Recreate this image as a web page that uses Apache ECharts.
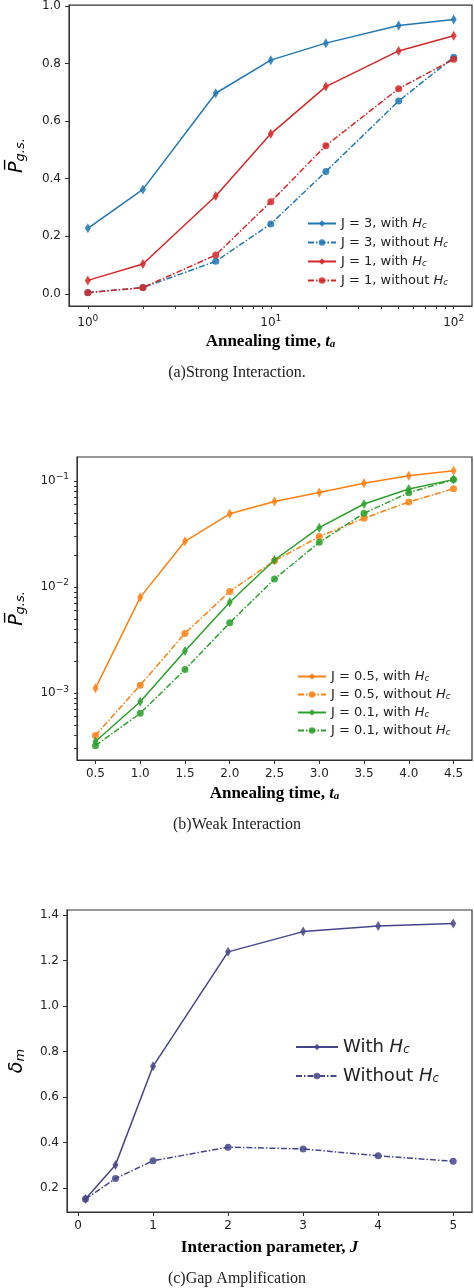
<!DOCTYPE html>
<html>
<head>
<meta charset="utf-8">
<script src="https://cdn.jsdelivr.net/npm/echarts@6/dist/echarts.min.js"></script>
<style>html,body{margin:0;padding:0;background:#fff}#c{width:474px;height:1288px}</style>
</head>
<body>
<div id="c"></div>
<script>
// (a) strong interaction
var tA = [1, 2, 5, 10, 20, 50, 100];
var j3With = [0.228, 0.363, 0.697, 0.812, 0.871, 0.932, 0.953];
var j3Without = [0.005, 0.022, 0.113, 0.243, 0.425, 0.670, 0.822];
var j1With = [0.047, 0.104, 0.340, 0.556, 0.720, 0.844, 0.897];
var j1Without = [0.004, 0.022, 0.135, 0.320, 0.515, 0.713, 0.815];
// (b) weak interaction
var tB = [0.5, 1.0, 1.5, 2.0, 2.5, 3.0, 3.5, 4.0, 4.5];
var j05With = [1.11e-3, 8.0e-3, 0.027, 0.049, 0.064, 0.078, 0.095, 0.112, 0.125];
var j05Without = [4.0e-4, 1.19e-3, 3.66e-3, 9.1e-3, 0.0177, 0.0299, 0.0445, 0.0634, 0.0847];
var j01With = [3.5e-4, 8.3e-4, 2.5e-3, 7.2e-3, 0.018, 0.0363, 0.0607, 0.084, 0.103];
var j01Without = [3.2e-4, 6.45e-4, 1.67e-3, 4.6e-3, 0.0119, 0.0264, 0.0496, 0.0776, 0.103];
// (c) gap amplification
var jC = [0.1, 0.5, 1, 2, 3, 4, 5];
var gapWith = [0.152, 0.302, 0.735, 1.238, 1.327, 1.352, 1.363];
var gapWithout = [0.152, 0.242, 0.320, 0.380, 0.372, 0.342, 0.318];
var decadeLabels = [0, 1, 2];
var logYLabels = [-3, -2, -1];

var lg = Math.log10;
function pairs(xs, ys, fx, fy) {
    return xs.map(function (x, i) { return [fx ? fx(x) : x, fy ? fy(ys[i]) : ys[i]]; });
}
function minorLogs(lo, hi) {
    var out = [];
    for (var d = lo; d < hi; d++) for (var k = 1; k < 10; k++) out.push(d + lg(k));
    out.push(hi);
    return out;
}
var dashDot = [6, 2, 1.5, 2];
function line(name, data, color, withHc, gi) {
    return {
        name: name, type: 'line', xAxisIndex: gi, yAxisIndex: gi, data: data,
        symbol: withHc ? 'diamond' : 'circle',
        symbolSize: withHc ? [6, 10] : 7,
        lineStyle: {color: color, width: 1.5, type: withHc ? 'solid' : dashDot},
        itemStyle: {color: color, opacity: 0.85},
        z: withHc ? 3 : 2
    };
}
var sup = {sup: {fontSize: 9, verticalAlign: 'bottom', padding: [0, 0, 8, 0], color: '#222'}};
function powLabel(v) { return '10{sup|' + String(Math.round(v)).replace('-', '−') + '}'; }
var labelCommon = {color: '#222', fontSize: 12, fontFamily: 'DejaVu Sans'};
var xNameStyle = {
    fontFamily: 'Liberation Serif', fontWeight: 'bold', fontSize: 17, color: '#000',
    rich: {it: {fontFamily: 'Liberation Serif', fontStyle: 'italic', fontSize: 17, color: '#000'},
           sub: {fontFamily: 'Liberation Serif', fontStyle: 'italic', fontSize: 11, verticalAlign: 'bottom', color: '#000'}}
};
var yNameRich = {
    fontFamily: 'DejaVu Sans', fontSize: 18, color: '#000',
    rich: {p: {fontStyle: 'italic', fontSize: 19, color: '#000', fontFamily: 'DejaVu Sans'},
           s: {fontStyle: 'italic', fontSize: 13, color: '#000', fontFamily: 'DejaVu Sans', verticalAlign: 'bottom'}}
};
var frame = {show: true, borderColor: '#333', borderWidth: 1.2, left: 66, width: 406};
function legendText(size) {
    return {fontSize: size, fontFamily: 'DejaVu Sans', color: '#222',
        rich: {i: {fontStyle: 'italic', fontSize: size, color: '#222'}, b: {fontStyle: 'italic', fontSize: size * 0.65, verticalAlign: 'bottom', color: '#222'}}};
}
function hc(n) { return n.replace('H_c', '{i|H}{b|c}'); }
var captionStyle = {fontFamily: 'Liberation Serif', fontWeight: 'normal', fontSize: 16, color: '#222'};

var chart = echarts.init(document.getElementById('c'), null, {renderer: 'canvas'});
var option = {
    animation: false,
    backgroundColor: '#fff',
    title: [
        {text: '(a)Strong Interaction.', left: 'center', top: 360, textStyle: captionStyle},
        {text: '(b)Weak Interaction', left: 'center', top: 812, textStyle: captionStyle},
        {text: '(c)Gap Amplification', left: 'center', top: 1266, textStyle: captionStyle}
    ],
    grid: [
        Object.assign({top: 4, height: 302}, frame),
        Object.assign({top: 457, height: 303}, frame),
        Object.assign({top: 910, height: 302}, frame)
    ],
    xAxis: [
        {gridIndex: 0, type: 'value', min: -0.103, max: 2.10,
         axisLine: {onZero: false, lineStyle: {color: '#333'}}, splitLine: {show: false},
         axisTick: {customValues: minorLogs(0, 2), length: 3, lineStyle: {color: '#333'}},
         axisLabel: Object.assign({customValues: decadeLabels, formatter: powLabel, rich: sup}, labelCommon),
         name: 'Annealing time, {it|t}{sub|a}', nameLocation: 'middle', nameGap: 27, nameTextStyle: xNameStyle},
        {gridIndex: 1, type: 'value', min: 0.294, max: 4.706,
         axisLine: {onZero: false, lineStyle: {color: '#333'}}, splitLine: {show: false},
         axisTick: {customValues: tB, length: 4, lineStyle: {color: '#333'}},
         axisLabel: Object.assign({customValues: tB, formatter: function (v) { return v.toFixed(1); }}, labelCommon),
         name: 'Annealing time, {it|t}{sub|a}', nameLocation: 'middle', nameGap: 25, nameTextStyle: xNameStyle},
        {gridIndex: 2, type: 'value', min: -0.146, max: 5.25,
         axisLine: {onZero: false, lineStyle: {color: '#333'}}, splitLine: {show: false},
         axisTick: {customValues: [0, 1, 2, 3, 4, 5], length: 4, lineStyle: {color: '#333'}},
         axisLabel: Object.assign({customValues: [0, 1, 2, 3, 4, 5]}, labelCommon),
         name: 'Interaction parameter, {it|J}', nameLocation: 'middle', nameGap: 27, nameTextStyle: xNameStyle}
    ],
    yAxis: [
        {gridIndex: 0, type: 'value', min: -0.042, max: 1.003,
         axisLine: {show: true, onZero: false, lineStyle: {color: '#333'}}, splitLine: {show: false},
         axisTick: {show: true, customValues: [0, 0.2, 0.4, 0.6, 0.8, 1.0], length: 4, lineStyle: {color: '#333'}},
         axisLabel: Object.assign({customValues: [0, 0.2, 0.4, 0.6, 0.8, 1.0], formatter: function (v) { return v.toFixed(1); }}, labelCommon),
         name: '{p|P̅}{s|g.s.}', nameLocation: 'middle', nameGap: 42, nameTextStyle: yNameRich},
        {gridIndex: 1, type: 'value', min: -3.63, max: -0.774,
         axisLine: {show: true, onZero: false, lineStyle: {color: '#333'}}, splitLine: {show: false},
         axisTick: {show: true, customValues: minorLogs(-4, -1).filter(function (v) { return v >= -3.63; }), length: 3, lineStyle: {color: '#333'}},
         axisLabel: Object.assign({customValues: logYLabels, formatter: powLabel, rich: sup}, labelCommon),
         name: '{p|P̅}{s|g.s.}', nameLocation: 'middle', nameGap: 50, nameTextStyle: yNameRich},
        {gridIndex: 2, type: 'value', min: 0.095, max: 1.422,
         axisLine: {show: true, onZero: false, lineStyle: {color: '#333'}}, splitLine: {show: false},
         axisTick: {show: true, customValues: [0.2, 0.4, 0.6, 0.8, 1.0, 1.2, 1.4], length: 4, lineStyle: {color: '#333'}},
         axisLabel: Object.assign({customValues: [0.2, 0.4, 0.6, 0.8, 1.0, 1.2, 1.4], formatter: function (v) { return v.toFixed(1); }}, labelCommon),
         name: '{p|δ}{s|m}', nameLocation: 'middle', nameGap: 40, nameTextStyle: yNameRich}
    ],
    legend: [
        {left: 302, top: 212, orient: 'vertical', itemGap: 6, itemWidth: 28, itemHeight: 8,
         textStyle: legendText(13), formatter: hc,
         data: ['J = 3, with H_c', 'J = 3, without H_c', 'J = 1, with H_c', 'J = 1, without H_c']},
        {left: 292, top: 665, orient: 'vertical', itemGap: 5, itemWidth: 28, itemHeight: 8,
         textStyle: legendText(13), formatter: hc,
         data: ['J = 0.5, with H_c', 'J = 0.5, without H_c', 'J = 0.1, with H_c', 'J = 0.1, without H_c']},
        {left: 290, top: 1033, orient: 'vertical', itemGap: 11, itemWidth: 42, itemHeight: 8,
         textStyle: legendText(18), formatter: hc,
         data: ['With H_c', 'Without H_c']}
    ],
    series: [
        line('J = 3, with H_c', pairs(tA, j3With, lg), '#1f77b4', true, 0),
        line('J = 3, without H_c', pairs(tA, j3Without, lg), '#1f77b4', false, 0),
        line('J = 1, with H_c', pairs(tA, j1With, lg), '#d62728', true, 0),
        line('J = 1, without H_c', pairs(tA, j1Without, lg), '#d62728', false, 0),
        line('J = 0.5, with H_c', pairs(tB, j05With, null, lg), '#ff7f0e', true, 1),
        line('J = 0.5, without H_c', pairs(tB, j05Without, null, lg), '#ff7f0e', false, 1),
        line('J = 0.1, with H_c', pairs(tB, j01With, null, lg), '#2ca02c', true, 1),
        line('J = 0.1, without H_c', pairs(tB, j01Without, null, lg), '#2ca02c', false, 1),
        line('With H_c', pairs(jC, gapWith), '#45458a', true, 2),
        line('Without H_c', pairs(jC, gapWithout), '#45458a', false, 2)
    ]
};
chart.setOption(option);
</script>
</body>
</html>
